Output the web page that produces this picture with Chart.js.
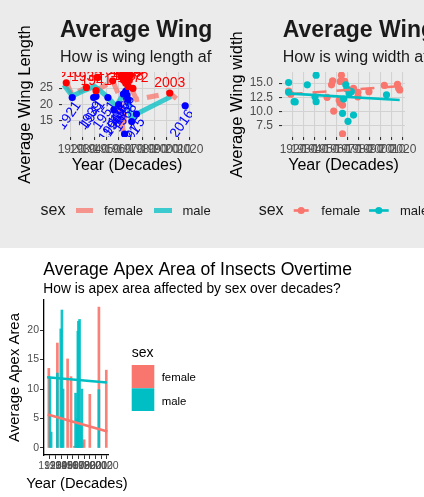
<!DOCTYPE html>
<html><head><meta charset="utf-8">
<script src="https://cdn.jsdelivr.net/npm/chart.js@4.4.1/dist/chart.umd.min.js"></script>
<style>
html,body{margin:0;padding:0;background:#fff;}
body{width:424px;height:497px;position:relative;overflow:hidden;}
#topbg{position:absolute;left:0;top:0;width:424px;height:248px;background:#EBEBEB;}
canvas{position:absolute;}
#c1{left:0;top:0;} #c2{left:212px;top:0;} #c3{left:0;top:248px;}
</style></head><body>
<div id="topbg"></div>
<canvas id="c1" width="212" height="248"></canvas>
<canvas id="c2" width="212" height="248"></canvas>
<canvas id="c3" width="424" height="249"></canvas>
<script>
// ---------- shared ----------
const decadeTicks = [1920,1930,1940,1950,1960,1970,1980,1990,2000,2010,2020];
const sexLabels = ['female','male'];

// ---------- chart 1: wing length ----------
const lenFemYears  = [1916,1933,1941,1942,1955,1962,1964,1965,1966,1967,1968,1969,1970,1972,2003];
const lenFemValues = [26.6,25.2,24.2,28.3,27.2,28.6,27.5,29.0,26.5,28.0,25.5,27.3,28.8,24.9,23.5];
const lenMaleYears  = [1921,1939,1941,1951,1956,1960,1964,1965,1966,1967,1968,1971,1975,2016];
const lenMaleValues = [22.1,22.1,22.5,22.1,18.4,20.0,23.2,11.0,24.0,22.9,21.5,14.8,17.1,19.6];
const lenFemLineYears  = [1916,1921,1933,1941,1955,1960,1964,1967,1975,2003,2016];
const lenFemLineValues = [26.6,23.0,25.2,24.2,27.2,23.0,11.5,28.0,21.5,23.5,19.6];
const lenMaleLineYears  = [1914,1921,1932,1940,1950,1958,1966,1971,1975,2004];
const lenMaleLineValues = [26.0,22.6,24.4,25.5,22.5,19.5,24.5,14.8,17.1,22.4];
const lenTicks = [15,20,25];

// ---------- chart 2: wing width ----------
const widFemYears  = [1916,1918,1951,1955,1956,1957,1962,1963,1963,1964,1965,1965,1967,1975,1979,1979,1989,2003,2015,2016,2017];
const widFemValues = [13.6,13.05,12.5,14.7,15.4,10.1,12.0,15.3,11.45,16.4,11.15,6.1,15.3,14.1,13.4,12.6,13.5,14.6,14.8,14.1,13.8];
const widMaleYears  = [1916,1916,1921,1922,1933,1940,1941,1941,1965,1966,1968,1969,1970,1971,1973,1975,2005];
const widMaleValues = [15.1,13.4,11.75,11.7,14.7,12.6,16.4,11.75,9.7,12.2,14.7,14.0,8.3,13.2,13.5,9.4,12.95];
const widFemFitYears  = [1916,2020];
const widFemFitValues = [13.05,14.5];
const widMaleFitYears  = [1914,2017];
const widMaleFitValues = [13.2,12.05];
const widTicks = [7.5,10,12.5,15];

// ---------- chart 3: apex area ----------
const apexFemYears  = [1918,1933,1951,1957,1963,1977,1980,1990,2006,2019];
const apexFemValues = [13.5,17.8,15.1,12.1,0.3,0.9,1.4,9.1,23.9,13.2];
const apexMaleYears  = [1920,1922,1933,1939,1941,1943,1965,1967,1969,1970,1972,1974,1976,2006];
const apexMaleValues = [12.0,2.7,12.7,20.2,23.4,10.0,9.3,5.0,19.8,21.5,21.8,4.0,10.0,9.9];
const apexFemFitYears  = [1916,2021];
const apexFemFitValues = [5.7,2.8];
const apexMaleFitYears  = [1915,2020];
const apexMaleFitValues = [12.0,11.1];
const apexTicks = [0,5,10,15,20];

// ---------- helpers ----------
const F = "'Liberation Sans', Arial, Helvetica, sans-serif";
const FEM = '#F8766D', MALE = '#00BFC4';
const pts = (xs, ys) => xs.map((x,i)=>({x:x, y:ys[i]}));

function makeDecor(spec){
  return {id:'decor', afterDraw(chart){
    const ctx = chart.ctx; ctx.save();
    (spec.keys||[]).forEach(k=>{
      if(k.type==='line'){ctx.strokeStyle=k.color;ctx.lineWidth=k.width;ctx.lineCap='butt';ctx.beginPath();ctx.moveTo(k.x1,k.y);ctx.lineTo(k.x2,k.y);ctx.stroke();}
      else if(k.type==='point'){ctx.fillStyle=k.color;ctx.beginPath();ctx.arc(k.x,k.y,k.r,0,Math.PI*2);ctx.fill();}
      else if(k.type==='rect'){ctx.fillStyle=k.color;ctx.fillRect(k.x,k.y,k.w,k.h);}
    });
    (spec.texts||[]).forEach(t=>{ctx.font=t.font;ctx.fillStyle=t.color||'#000';ctx.textAlign=t.align||'left';ctx.textBaseline='alphabetic';ctx.fillText(t.text,t.x,t.y);});
    ctx.restore();
  }};
}

function makeLabels(specs){
  return {id:'ptlabels', afterDatasetsDraw(chart){
    const ctx = chart.ctx, a = chart.chartArea;
    ctx.save(); ctx.beginPath(); ctx.rect(a.left,a.top,a.right-a.left,a.bottom-a.top); ctx.clip();
    ctx.font = '14px '+F; ctx.textAlign='center'; ctx.textBaseline='middle';
    specs.forEach(sp=>{
      const meta = chart.getDatasetMeta(sp.index);
      const ds = chart.data.datasets[sp.index];
      meta.data.forEach((el,j)=>{
        ctx.save(); ctx.translate(el.x+sp.dx, el.y+sp.dy); ctx.rotate(sp.rot);
        ctx.fillStyle = sp.color; ctx.fillText(String(ds.data[j].x),0,0); ctx.restore();
      });
    });
    ctx.restore();
  }};
}

function grayX(min,max){
  return {type:'linear', min:min, max:max,
    afterBuildTicks: s=>{ s.ticks = decadeTicks.map(v=>({value:v})); },
    afterFit: s=>{ s.height = 38; },
    grid:{color:'#d2d2d2', lineWidth:1.1, tickLength:3, tickColor:'#333'},
    border:{display:false},
    ticks:{autoSkip:false, maxRotation:0, minRotation:0, padding:2, color:'#4d4d4d', font:{family:F,size:12}, callback:v=>String(v)},
    title:{display:true, text:'Year (Decades)', color:'#000', font:{family:F,size:16}, padding:{top:0,bottom:0}}};
}
function grayY(min,max,ticks,width,title,fmt){
  return {type:'linear', min:min, max:max,
    afterBuildTicks: s=>{ s.ticks = ticks.map(v=>({value:v})); },
    afterFit: s=>{ s.width = width; },
    grid:{color:'#d2d2d2', lineWidth:1.1, tickLength:3, tickColor:'#333'},
    border:{display:false},
    ticks:{padding:6, color:'#4d4d4d', font:{family:F,size:12}, callback:fmt},
    title:{display:true, text:title, color:'#000', font:{family:F,size:16.5}, padding:{top:16,bottom:0}}};
}

// ---------- chart 1 ----------
new Chart(document.getElementById('c1'), {
  type:'scatter',
  data:{datasets:[
    {label:sexLabels[0], data:pts(lenFemYears,lenFemValues), backgroundColor:'#FF0000', pointRadius:3.6, pointBorderWidth:0, showLine:false},
    {label:sexLabels[1], data:pts(lenMaleYears,lenMaleValues), backgroundColor:'#0000FF', pointRadius:3.6, pointBorderWidth:0, showLine:false},
    {label:sexLabels[1], data:pts(lenMaleLineYears,lenMaleLineValues), showLine:true, borderColor:'rgba(0,191,196,0.75)', borderWidth:5, pointRadius:0, borderJoinStyle:'round'},
    {label:sexLabels[0], data:pts(lenFemLineYears,lenFemLineValues), showLine:true, borderColor:'rgba(248,118,109,0.75)', borderWidth:5, borderDash:[12,8], pointRadius:0}
  ]},
  options:{responsive:false, animation:false, events:[],
    layout:{padding:{left:0, top:72, right:20, bottom:73}},
    plugins:{legend:{display:false}, tooltip:{enabled:false}},
    scales:{x:grayX(1912.4,2021.7), y:grayY(10.1,29.9,lenTicks,62,'Average Wing Length',v=>String(v))}
  },
  plugins:[
    makeLabels([
      {index:0, color:'#FF0000', dx:0, dy:-10, rot:0},
      {index:1, color:'#0000FF', dx:-3, dy:18, rot:-55*Math.PI/180}
    ]),
    makeDecor({
      texts:[
        {text:'Average Wing Length of Insects Overtime', x:60, y:36.7, font:'bold 23px '+F, color:'#1a1a1a'},
        {text:'How is wing length affected by sex over decades?', x:60, y:61.7, font:'16px '+F, color:'#1a1a1a'},
        {text:'sex', x:40.5, y:215, font:'16px '+F, color:'#1a1a1a'},
        {text:sexLabels[0], x:104, y:215, font:'13px '+F, color:'#1a1a1a'},
        {text:sexLabels[1], x:182.5, y:215, font:'13px '+F, color:'#1a1a1a'}
      ],
      keys:[
        {type:'line', x1:76, x2:93, y:210.5, color:'rgba(248,118,109,0.75)', width:5},
        {type:'line', x1:154, x2:172, y:210.5, color:'rgba(0,191,196,0.75)', width:5}
      ]
    })
  ]
});

// ---------- chart 2 ----------
new Chart(document.getElementById('c2'), {
  type:'scatter',
  data:{datasets:[
    {label:sexLabels[1], data:pts(widMaleFitYears,widMaleFitValues), showLine:true, borderColor:MALE, borderWidth:2.6, pointRadius:0},
    {label:sexLabels[0], data:pts(widFemFitYears,widFemFitValues), showLine:true, borderColor:FEM, borderWidth:2.6, borderDash:[14,10], pointRadius:0},
    {label:sexLabels[1], data:pts(widMaleYears,widMaleValues), backgroundColor:MALE, pointRadius:3.6, pointBorderWidth:0, showLine:false},
    {label:sexLabels[0], data:pts(widFemYears,widFemValues), backgroundColor:FEM, pointRadius:3.6, pointBorderWidth:0, showLine:false}
  ]},
  options:{responsive:false, animation:false, events:[],
    layout:{padding:{left:0, top:72, right:19, bottom:73}},
    plugins:{legend:{display:false}, tooltip:{enabled:false}},
    scales:{x:grayX(1910.0,2021.8), y:grayY(5.55,16.95,widTicks,70,'Average Wing width',v=>Number(v).toFixed(1))}
  },
  plugins:[
    makeDecor({
      texts:[
        {text:'Average Wing Width of Insects Overtime', x:70.7, y:36.7, font:'bold 23px '+F, color:'#1a1a1a'},
        {text:'How is wing width affected by sex over decades?', x:70.7, y:61.7, font:'16px '+F, color:'#1a1a1a'},
        {text:'sex', x:46.7, y:215, font:'16px '+F, color:'#1a1a1a'},
        {text:sexLabels[0], x:109.3, y:215, font:'13px '+F, color:'#1a1a1a'},
        {text:sexLabels[1], x:188, y:215, font:'13px '+F, color:'#1a1a1a'}
      ],
      keys:[
        {type:'line', x1:81.7, x2:96.7, y:210.5, color:FEM, width:2.6},
        {type:'point', x:89.2, y:210.5, r:3.6, color:FEM},
        {type:'line', x1:157, x2:176.7, y:210.5, color:MALE, width:2.6},
        {type:'point', x:166.8, y:210.5, r:3.6, color:MALE}
      ]
    })
  ]
});

// ---------- chart 3 ----------
new Chart(document.getElementById('c3'), {
  type:'bar',
  data:{datasets:[
    {type:'line', label:sexLabels[1], data:pts(apexMaleFitYears,apexMaleFitValues), borderColor:MALE, borderWidth:2.6, pointRadius:0},
    {type:'line', label:sexLabels[0], data:pts(apexFemFitYears,apexFemFitValues), borderColor:FEM, borderWidth:2.6, pointRadius:0},
    {label:sexLabels[1], data:pts(apexMaleYears,apexMaleValues), backgroundColor:'rgba(0,191,196,0.92)', barThickness:2, grouped:false},
    {label:sexLabels[0], data:pts(apexFemYears,apexFemValues), backgroundColor:'rgba(248,118,109,0.92)', barThickness:2, grouped:false}
  ]},
  options:{responsive:false, animation:false, events:[],
    layout:{padding:{left:0, top:52, right:316, bottom:5}},
    plugins:{legend:{display:false}, tooltip:{enabled:false}},
    scales:{
      x:{type:'linear', min:1909.5, max:2022, offset:false,
        afterBuildTicks: s=>{ s.ticks = decadeTicks.map(v=>({value:v})); },
        afterFit: s=>{ s.height = 37; },
        grid:{drawOnChartArea:false, offset:false, tickLength:4, tickColor:'#333'},
        border:{display:true, color:'#000', width:1.3},
        ticks:{autoSkip:false, maxRotation:0, minRotation:0, padding:1, color:'#4d4d4d', font:{family:F,size:10.5}, callback:v=>String(v)},
        title:{display:false}},
      y:{type:'linear', min:-1.19, max:25.1,
        afterBuildTicks: s=>{ s.ticks = apexTicks.map(v=>({value:v})); },
        afterFit: s=>{ s.width = 44; },
        grid:{drawOnChartArea:false, tickLength:4, tickColor:'#333'},
        border:{display:true, color:'#000', width:1.3},
        ticks:{padding:1, color:'#4d4d4d', font:{family:F,size:10.5}, callback:v=>String(v)},
        title:{display:true, text:'Average Apex Area', color:'#000', font:{family:F,size:14.9}, padding:{top:6,bottom:0}}}
    }
  },
  plugins:[
    makeDecor({
      texts:[
        {text:'Average Apex Area of Insects Overtime', x:43.3, y:27, font:'17.6px '+F, color:'#000'},
        {text:'How is apex area affected by sex over decades?', x:43.3, y:45.3, font:'13.8px '+F, color:'#000'},
        {text:'Year (Decades)', x:77, y:239.5, font:'14.7px '+F, color:'#000', align:'center'},
        {text:'sex', x:131.7, y:109, font:'14px '+F, color:'#000'},
        {text:sexLabels[0], x:161.7, y:132.7, font:'11.4px '+F, color:'#000'},
        {text:sexLabels[1], x:161.7, y:156.5, font:'11.4px '+F, color:'#000'}
      ],
      keys:[
        {type:'rect', x:131.7, y:117, w:22.6, h:23.3, color:FEM},
        {type:'rect', x:131.7, y:140.3, w:22.6, h:22.7, color:MALE}
      ]
    })
  ]
});
</script>
</body></html>
